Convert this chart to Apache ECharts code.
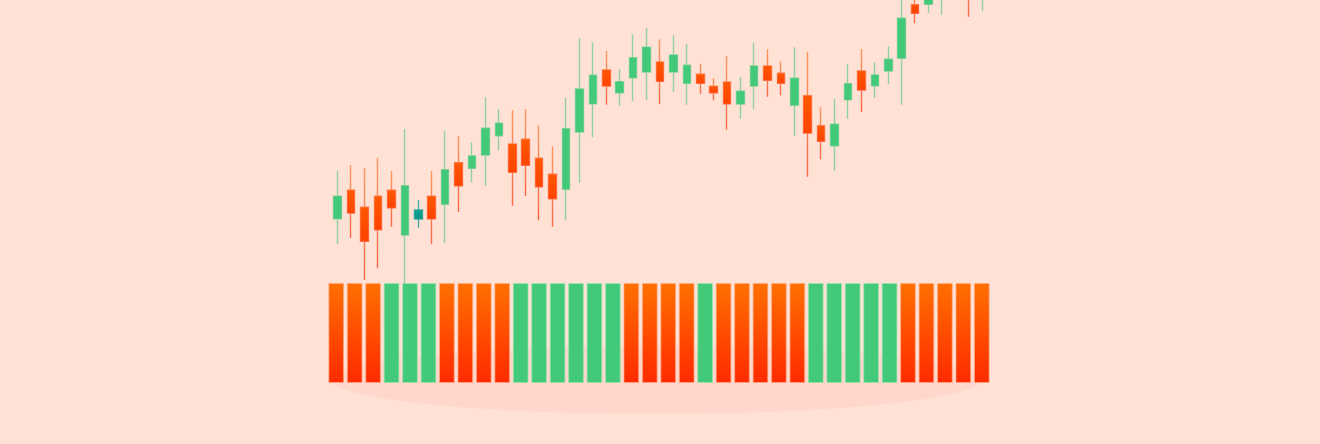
<!DOCTYPE html>
<html>
<head>
<meta charset="utf-8">
<script src="https://cdn.jsdelivr.net/npm/echarts@6/dist/echarts.min.js"></script>
<style>
html,body{margin:0;padding:0;background:#ffe1d6;}
#chart{width:1320px;height:444px;}
</style>
</head>
<body>
<div id="chart"></div>
<script>
// Candles: [open, close, low, high]
const candleOpen  = [81.3,109.7,92.7,103.7,109.7,65,81,103.7,95.7,137.3,131.7,145,164.3,156,160.7,141.7,125.7,110.7,168,196.3,230,207.3,222.3,228,238,228,216.7,225.7,213.7,218,196,214,234,226.7,194.7,204.3,174.3,154.3,200.3,229,214.3,229,241.7,295.3,295.7,302,322,318,304];
const candleClose = [103.7,87,58.7,70.3,92.3,114.3,90,81.3,130.3,114.3,144,171.7,176.7,127.7,134.7,113.3,101.3,171.3,211,224.7,214,218.3,242.3,252.7,218.7,245,234.7,216.7,207.3,196.3,208.7,234,219.7,216.7,221.7,167,158.7,175.7,216.3,210,225,240.7,281.7,286.7,310,318,310,303,320];
const candleLow   = [56,62,20,31.7,73.3,16,72.3,56,56.7,88,117.7,114,149.7,94.3,104,79.7,73.3,79.7,117.3,162.7,195.3,194.3,199,200,195.7,208.3,195.3,206.3,199.7,170.3,181.3,190.7,203.3,204.7,164,123.3,140.7,129.3,181.3,188,202,215.7,195.3,276.7,287.3,285,303,283.3,289];
const candleHigh  = [129,135,131.7,142.3,129,171,99.7,129,169.3,164,157.7,203,191,189.7,191,174.7,153.7,202,261.7,257.7,249,231,265.7,272,260.7,264.7,256,236.3,221.7,244,223.3,257.3,250.7,238.7,252.7,248.3,192.7,201,235.7,251,237.7,253.7,305,312,318,326,330,332,335];
const specialCandle = 6; // index of the teal candle

// Volume bars: all equal height; +1 = up (green), -1 = down (orange)
const volumeValues = [100,100,100,100,100,100,100,100,100,100,100,100,100,100,100,100,100,100,100,100,100,100,100,100,100,100,100,100,100,100,100,100,100,100,100,100];
const volumeSign   = [-1,-1,-1,1,1,1,-1,-1,-1,-1,1,1,1,1,1,1,-1,-1,-1,-1,1,-1,-1,-1,-1,-1,1,1,1,1,1,-1,-1,-1,-1,-1];

const G = echarts.graphic;
const orangeFill = () => new G.LinearGradient(0,0,0,1,[{offset:0,color:'#ff7000'},{offset:1,color:'#ff2a00'}]);
const orangeBorder = () => new G.LinearGradient(0,0,0,1,[{offset:0,color:'rgba(255,120,40,0.7)'},{offset:1,color:'rgba(255,50,10,0.7)'}]);
const green = '#43c97a';

const candleCats = candleOpen.map((_, i) => 'c' + i);
const candleData = candleOpen.map((o, i) => {
  const item = { value: [o, candleClose[i], candleLow[i], candleHigh[i]] };
  if (i === specialCandle) {
    item.itemStyle = {
      color: new G.LinearGradient(0,0,0,1,[{offset:0,color:'#14aa9c'},{offset:1,color:'#0a8a80'}]),
      borderColor: 'rgba(20,160,150,0.8)'
    };
  }
  return item;
});

const volCats = volumeValues.map((_, i) => 'v' + i);
const volData = volumeValues.map((v, i) => ({
  value: v,
  itemStyle: volumeSign[i] > 0
    ? { color: green, borderColor: 'rgba(150,230,170,0.7)', borderWidth: 1 }
    : { color: orangeFill(), borderColor: 'rgba(255,170,130,0.7)', borderWidth: 1 }
}));

const chart = echarts.init(document.getElementById('chart'), null, {renderer: 'canvas'});
chart.setOption({
  backgroundColor: '#ffe1d6',
  animation: false,
  graphic: [{
    type: 'ellipse',
    z: -10,
    silent: true,
    shape: { cx: 656, cy: 380, rx: 324, ry: 34 },
    style: { fill: '#ffd7cc' }
  }],
  grid: [
    { left: 331, right: 331, top: 0, bottom: 144 },
    { left: 327, right: 329, top: 283, bottom: 61 }
  ],
  xAxis: [
    { type: 'category', gridIndex: 0, data: candleCats, show: false, boundaryGap: true },
    { type: 'category', gridIndex: 1, data: volCats, show: false, boundaryGap: true }
  ],
  yAxis: [
    { type: 'value', gridIndex: 0, min: 0, max: 300, show: false },
    { type: 'value', gridIndex: 1, min: 0, max: 100, show: false }
  ],
  series: [
    {
      type: 'candlestick',
      xAxisIndex: 0, yAxisIndex: 0,
      barWidth: 8,
      z: 2,
      itemStyle: {
        color: green,
        color0: orangeFill(),
        borderColor: 'rgba(67,201,122,0.6)',
        borderColor0: orangeBorder(),
        borderWidth: 1.4
      },
      data: candleData
    },
    {
      type: 'bar',
      xAxisIndex: 1, yAxisIndex: 1,
      barCategoryGap: '15%',
      z: 5,
      data: volData
    }
  ]
});
</script>
</body>
</html>
